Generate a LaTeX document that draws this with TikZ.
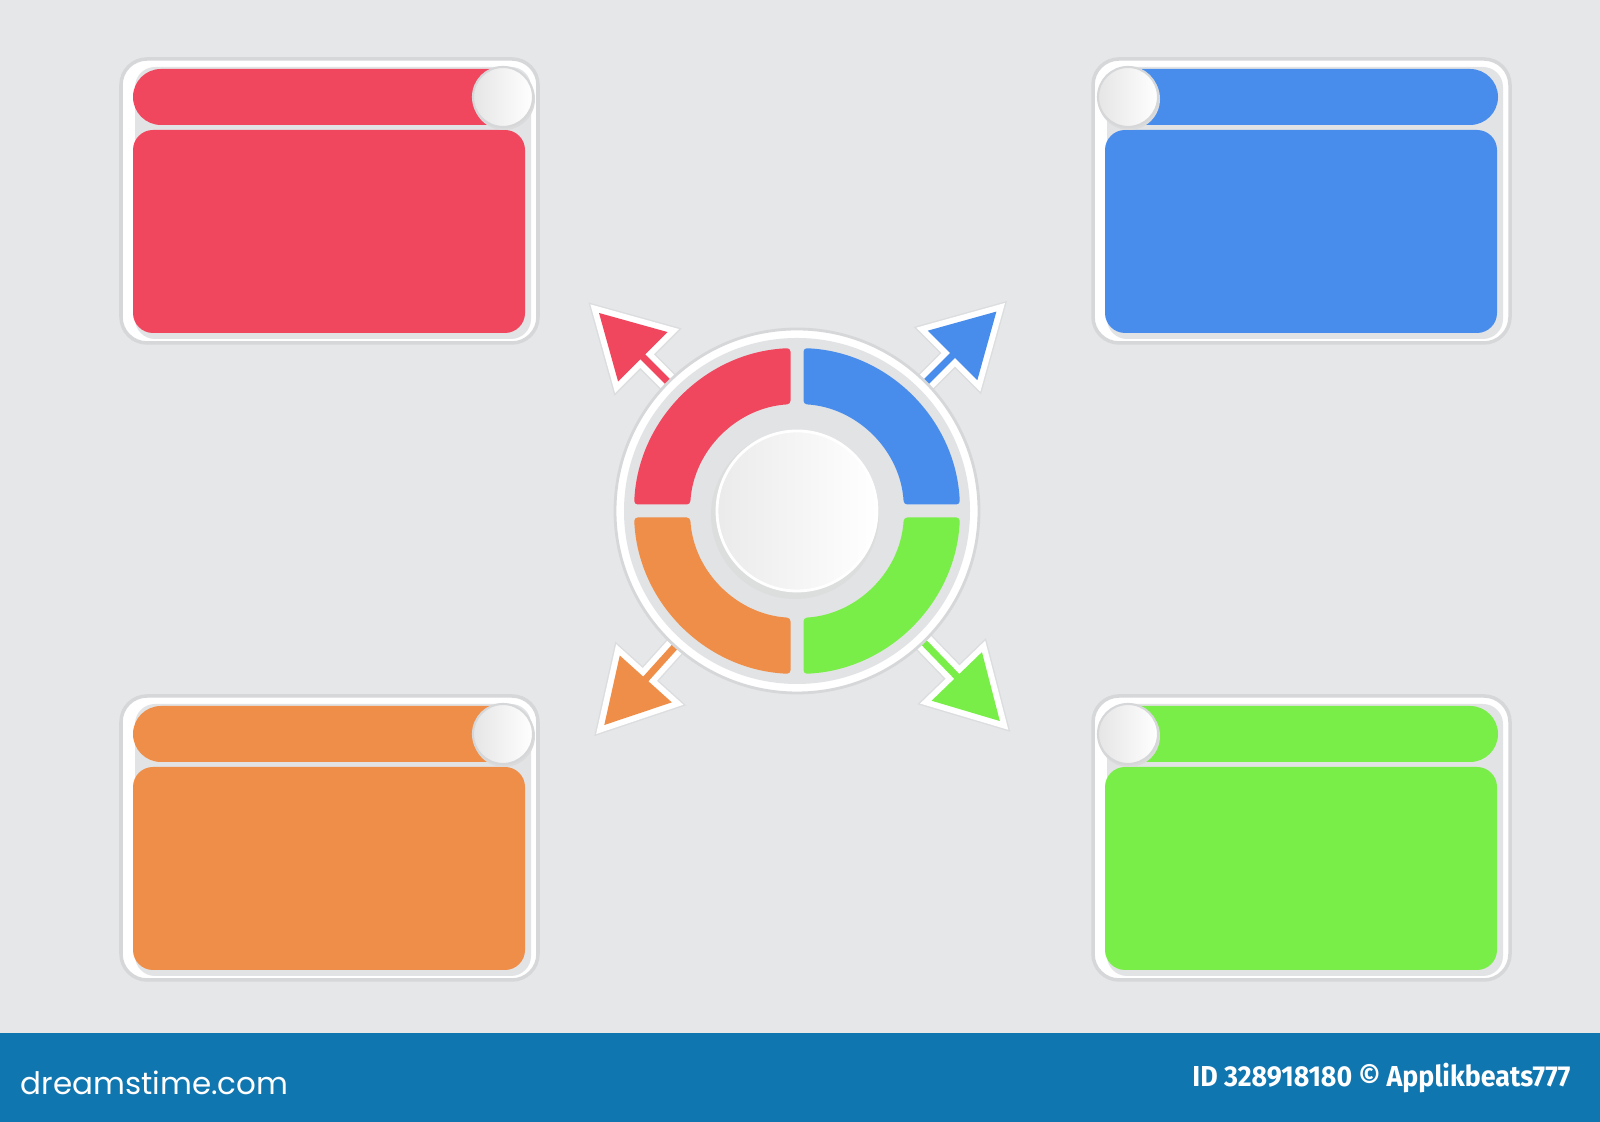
\documentclass[tikz,border=0pt]{standalone}
\usepackage{fontspec}
\newfontfamily\logofont{Poppins}
\newfontfamily\idfont{Fira Sans}
\usetikzlibrary{calc}

\definecolor{bgGray}{HTML}{E6E7E9}
\definecolor{barBlue}{HTML}{1076B0}
\definecolor{segRed}{HTML}{F0475E}
\definecolor{segBlue}{HTML}{488DEC}
\definecolor{segOrange}{HTML}{EE8E48}
\definecolor{segGreen}{HTML}{7AEE48}
\definecolor{rimGray}{HTML}{D6D7D9}
\definecolor{edgeGray}{HTML}{DCDDDF}
\definecolor{panelGray}{HTML}{E2E3E5}

\begin{document}
\begin{tikzpicture}[x=0.01cm, y=0.01cm, every node/.style={inner sep=0pt}]

	% background and credit bar
	\fill[bgGray] (0,0) rectangle (1600,1122);
	\fill[barBlue] (0,0) rectangle (1600,89);

	\coordinate (O) at (797,611);

	\tikzset{frame/.style={fill=white, draw=rimGray, line width=1pt, rounded corners=0.26cm},
		panel/.style={fill=panelGray, rounded corners=0.2cm},
		knob/.style={draw=rimGray, line width=0.6pt, left color=gray!20, right color=white}}

	% cards: lower left corner / colour / knob x
	\foreach \cx/\cy/\col/\kx in {121/779/segRed/382, 1093/779/segBlue/35, 121/142/segOrange/382, 1093/142/segGreen/35}{
		\begin{scope}[shift={(\cx,\cy)}]
			\draw[frame] (0,0) rectangle (417,284);
			\fill[panel] (14,4) rectangle (410,276);
			\fill[\col, rounded corners=0.28cm] (12,218) rectangle (405,274);
			\fill[\col, rounded corners=0.2cm] (12,10) rectangle (404,213);
			\fill[gray!28] (\kx+1,244) circle (31);
			\shade[knob] (\kx,246) circle (30);
		\end{scope}
	}

	% arrows out of the ring
	\foreach \ang/\len/\col in {135/280/segRed, 45/282/segBlue, -46/292/segGreen, 228/288/segOrange}{
		\begin{scope}[shift={(O)}, rotate=\ang]
			\def\arrowpath{(165,-3.5) -- (\len-62,-3.5) -- (\len-62,-35) -- (\len,0) -- (\len-62,35) -- (\len-62,3.5) -- (165,3.5) -- cycle}
			\draw[edgeGray, line width=4.2pt, line join=miter] \arrowpath;
			\draw[white, line width=3.4pt, line join=miter] \arrowpath;
			\fill[\col] \arrowpath;
		\end{scope}
	}

	% ring
	\fill[white] (O) circle (182);
	\draw[rimGray, line width=0.8pt] (O) circle (182);
	\fill[panelGray] (O) circle (173);
	\foreach \rot/\col in {0/segRed, -90/segBlue, -180/segGreen, 90/segOrange}{
		\begin{scope}[shift={(O)}, rotate=\rot]
			\fill[\col, rounded corners=1pt] (92.29:163) arc[start angle=92.29, end angle=177.71, radius=163] -- (176.52:107) arc[start angle=176.52, end angle=93.48, radius=107] -- cycle;
		\end{scope}
	}
	\fill[gray!30, opacity=0.6] ($(O)+(-2,-4)$) circle (84);
	\shade[left color=gray!16, right color=white] (O) circle (80);
	\draw[white, line width=0.8pt] (O) circle (80);

	\node[anchor=base west, text=white, font=\logofont\fontsize{8.8}{10}\selectfont] (logo) at (20,27) {dreamstime.com};
	\node[anchor=base east, text=white, xscale=0.93, font=\idfont\bfseries\fontsize{8.2}{10}\selectfont] (credit) at (1571,35) {ID 328918180 © Applikbeats777};
\end{tikzpicture}
\end{document}
